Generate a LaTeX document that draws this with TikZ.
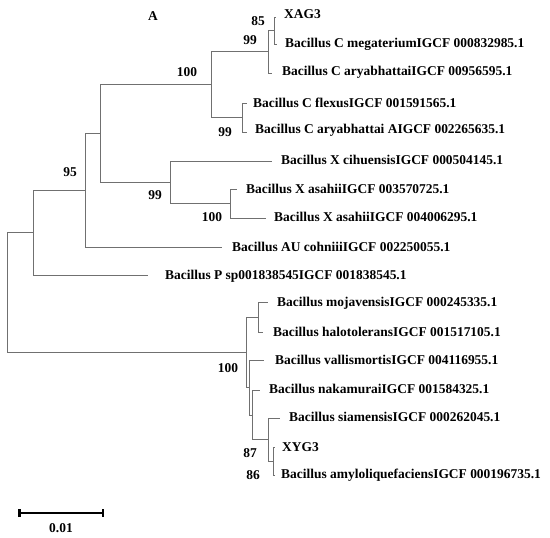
\documentclass[tikz,border=0pt]{standalone}
\usepackage{fontspec}
\setmainfont{Liberation Serif}
\usetikzlibrary{arrows.meta}

\definecolor{branchgray}{RGB}{112,112,112}

\tikzset{
  branch/.style={draw=branchgray, line width=0.9bp},
  taxon/.style={anchor=west, inner sep=0pt, text height=9bp, text depth=0bp,
    font=\fontsize{13.5}{15}\selectfont\bfseries},
  boot/.style={inner sep=0pt, text height=9bp, text depth=0bp,
    font=\fontsize{13.5}{15}\selectfont\bfseries},
}

\begin{document}
\begin{tikzpicture}[x=1bp, y=-1bp]
\useasboundingbox (0,0) rectangle (550,538);

% Panel letter
\node[boot] (panel) at (153,16) {A};

% Internal nodes
\coordinate (root) at (7,292.4);
\coordinate (n33) at (33,232.5);
\coordinate (n85) at (85,190);
\coordinate (n100) at (100,133.5);
\coordinate (ntop) at (211,84.5);
\coordinate (n99a) at (268,51.5);
\coordinate (n85a) at (274,30.5);
\coordinate (nflex) at (242,117.5);
\coordinate (ncih) at (170,182);
\coordinate (nasa) at (230,203.5);
\coordinate (nbig) at (246,352.2);
\coordinate (nmoj) at (258,317);
\coordinate (nb) at (249,387.5);
\coordinate (nc) at (252,415);
\coordinate (nd) at (268,439.5);
\coordinate (ne) at (273,461);

% Leaf tips
\coordinate (txag) at (276,17);
\coordinate (tmeg) at (277,44);
\coordinate (tary) at (272,73);
\coordinate (tflex) at (247,103);
\coordinate (tai) at (247,132);
\coordinate (tcih) at (272,161);
\coordinate (tasa1) at (237,189);
\coordinate (tasa2) at (266,218);
\coordinate (tau) at (222,247);
\coordinate (tpsp) at (148,275);
\coordinate (tmoj) at (268,302);
\coordinate (thalo) at (263,332);
\coordinate (tval) at (264,360);
\coordinate (tnak) at (260,390);
\coordinate (tsiam) at (280,418);
\coordinate (txyg) at (275,447);
\coordinate (tamy) at (275,475);

% Branches
\draw[branch] (root) |- (n33);
\draw[branch] (root) |- (nbig);
\draw[branch] (n33) |- (n85);
\draw[branch] (n33) |- (tpsp);
\draw[branch] (n85) |- (n100);
\draw[branch] (n85) |- (tau);
\draw[branch] (n100) |- (ntop);
\draw[branch] (n100) |- (ncih);
\draw[branch] (ntop) |- (n99a);
\draw[branch] (ntop) |- (nflex);
\draw[branch] (n99a) |- (n85a);
\draw[branch] (n99a) |- (tary);
\draw[branch] (n85a) |- (txag);
\draw[branch] (n85a) |- (tmeg);
\draw[branch] (nflex) |- (tflex);
\draw[branch] (nflex) |- (tai);
\draw[branch] (ncih) |- (tcih);
\draw[branch] (ncih) |- (nasa);
\draw[branch] (nasa) |- (tasa1);
\draw[branch] (nasa) |- (tasa2);
\draw[branch] (nbig) |- (nmoj);
\draw[branch] (nbig) |- (nb);
\draw[branch] (nmoj) |- (tmoj);
\draw[branch] (nmoj) |- (thalo);
\draw[branch] (nb) |- (tval);
\draw[branch] (nb) |- (nc);
\draw[branch] (nc) |- (tnak);
\draw[branch] (nc) |- (nd);
\draw[branch] (nd) |- (tsiam);
\draw[branch] (nd) |- (ne);
\draw[branch] (ne) |- (txyg);
\draw[branch] (ne) |- (tamy);

% Taxon labels
\node[taxon] (lxag) at (284,14) {XAG3};
\node[taxon] (lmeg) at (285,43) {Bacillus C megateriumIGCF 000832985.1};
\node[taxon] (lary) at (282,71) {Bacillus C aryabhattaiIGCF 00956595.1};
\node[taxon] (lflex) at (253,103) {Bacillus C flexusIGCF 001591565.1};
\node[taxon] (lai) at (255,129) {Bacillus C aryabhattai AIGCF 002265635.1};
\node[taxon] (lcih) at (281,160) {Bacillus X cihuensisIGCF 000504145.1};
\node[taxon] (lasa1) at (246,189) {Bacillus X asahiiIGCF 003570725.1};
\node[taxon] (lasa2) at (274,217) {Bacillus X asahiiIGCF 004006295.1};
\node[taxon] (lau) at (232,247) {Bacillus AU cohniiiIGCF 002250055.1};
\node[taxon] (lpsp) at (165,275) {Bacillus P sp001838545IGCF 001838545.1};
\node[taxon] (lmoj) at (277,302) {Bacillus mojavensisIGCF 000245335.1};
\node[taxon] (lhalo) at (273,332) {Bacillus halotoleransIGCF 001517105.1};
\node[taxon] (lval) at (275,360) {Bacillus vallismortisIGCF 004116955.1};
\node[taxon] (lnak) at (269,389) {Bacillus nakamuraiIGCF 001584325.1};
\node[taxon] (lsiam) at (289,417) {Bacillus siamensisIGCF 000262045.1};
\node[taxon] (lxyg) at (282,447) {XYG3};
\node[taxon] (lamy) at (281,474) {Bacillus amyloliquefaciensIGCF 000196735.1};

% Bootstrap values
\node[boot] (b85a) at (258,21) {85};
\node[boot] (b99a) at (250,40) {99};
\node[boot] (b100a) at (187,72) {100};
\node[boot] (b99b) at (225,132) {99};
\node[boot] (b95) at (70,172) {95};
\node[boot] (b99c) at (155,195) {99};
\node[boot] (b100b) at (212,217) {100};
\node[boot] (b100c) at (228,368) {100};
\node[boot] (b87) at (250,453) {87};
\node[boot] (b86) at (253,475) {86};

% Scale bar
\coordinate (sbl) at (18,513);
\coordinate (sbr) at (104,513);
\draw[line width=2.5bp, {Bar[width=8bp]}-{Bar[width=8bp]}] (sbl) -- (sbr);
\node[boot] (sblabel) at (61,528) {0.01};

\end{tikzpicture}
\end{document}
